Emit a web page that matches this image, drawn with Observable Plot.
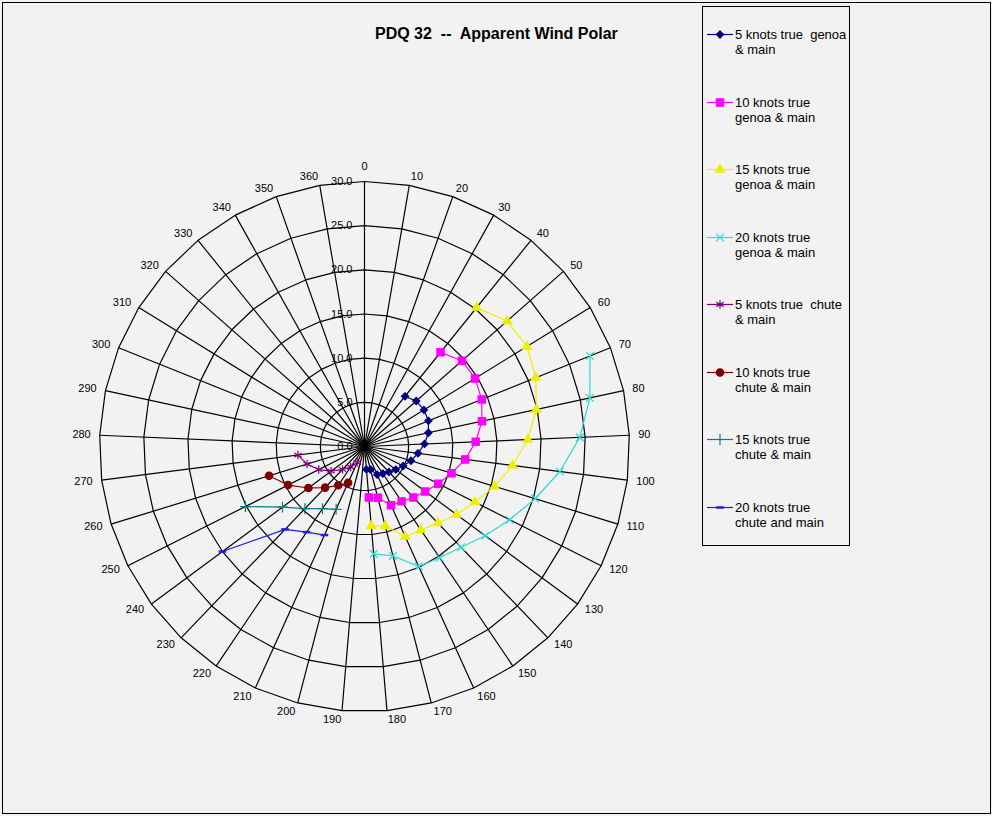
<!DOCTYPE html>
<html><head><meta charset="utf-8">
<script src="https://cdn.jsdelivr.net/npm/d3@7"></script>
<script src="https://cdn.jsdelivr.net/npm/@observablehq/plot@0.6"></script>
<style>
html,body{margin:0;padding:0;background:#f2f2f2;}
#wrap{position:relative;width:992px;height:816px;font-family:"Liberation Sans",Arial,sans-serif;color:#000;}
#title{position:absolute;left:375px;top:24px;font-weight:bold;font-size:16px;line-height:20px;white-space:pre;}
#legend{position:absolute;left:702px;top:6px;width:146px;height:538px;border:1px solid #000;}
.entry{position:absolute;left:0;font-size:13px;line-height:15px;}
.entry svg{position:absolute;left:3px;top:0;}
.entry .txt{position:absolute;left:32px;top:0;white-space:pre;}
</style></head><body><div id="wrap"></div>
<script>
// ---- data ----
const angleLabels = ["0","10","20","30","40","50","60","70","80","90","100","110","120","130","140","150","160","170","180","190","200","210","220","230","240","250","260","270","280","290","300","310","320","330","340","350","360"];
const ringValues = [5, 10, 15, 20, 25, 30];
const radialTickValues = [0, 5, 10, 15, 20, 25, 30];
const radialTickLabels = ["0.0","5.0","10.0","15.0","20.0","25.0","30.0"];

const seriesNames = ["5 knots true  genoa\n& main","10 knots true\ngenoa & main","15 knots true\ngenoa & main","20 knots true\ngenoa & main","5 knots true  chute\n& main","10 knots true\nchute & main","15 knots true\nchute & main","20 knots true\nchute and main"];
const seriesStart = [40, 40, 40, 70, 210, 210, 210, 210];
const genoa5  = [7.3, 7.8, 7.9, 7.8, 7.4, 6.8, 6.1, 5.5, 4.9, 4.4, 4.0, 3.7, 3.5, 2.7, 2.6];
const genoa10 = [13.7, 14.7, 14.7, 14.3, 13.6, 12.6, 11.5, 10.3, 9.35, 8.55, 8.0, 7.5, 7.3, 6.0, 5.8];
const genoa15 = [20.2, 21.5, 21.6, 20.9, 19.9, 18.5, 16.9, 15.4, 14.0, 12.95, 12.0, 11.4, 11.2, 9.3, 9.0];
const genoa20 = [27.5, 26.1, 24.4, 22.3, 20.2, 18.4, 17.0, 15.8, 15.2, 14.9, 12.8, 12.2];
const chute5  = [2.0, 2.8, 3.6, 4.7, 5.8, 6.8, 7.6];
const chute10 = [4.5, 5.3, 6.45, 7.9, 9.7, 11.3];
const chute15 = [7.8, 8.5, 9.75, 11.55, 15.1];
const chute20 = [11.0, 11.7, 13.0, 20.0];
const seriesValues = [genoa5, genoa10, genoa15, genoa20, chute5, chute10, chute15, chute20];
const seriesColors = ["#000080","#ff00ff","#eeee00","#33d6d6","#800080","#800000","#008080","#1f1fdd"];

// ---- styling helpers ----
const dash = {draw(ctx, size){ const w = Math.sqrt(size) / 1.6; ctx.moveTo(-w, 0); ctx.lineTo(w, 0); }};
const seriesSymbols = [
  {symbol: "diamond2", r: 3.2, filled: true},
  {symbol: "square", r: 4.1, filled: true},
  {symbol: "triangle", r: 3.3, filled: true},
  {symbol: "times", r: 3.6, filled: false},
  {symbol: "asterisk", r: 4.0, filled: false},
  {symbol: "circle", r: 3.7, filled: true},
  {symbol: "plus", r: 3.6, filled: false},
  {symbol: dash, r: 3.4, filled: false, sw: 2.5}
];
const symbolTypes = {diamond2: d3.symbolDiamond2, square: d3.symbolSquare, triangle: d3.symbolTriangle, times: d3.symbolTimes, asterisk: d3.symbolAsterisk, circle: d3.symbolCircle, plus: d3.symbolPlus};

const nCat = angleLabels.length;            // 37 spokes
const rMax = d3.max(ringValues);
const theta = i => i * 2 * Math.PI / nCat;
const px = (r, i) => r * Math.sin(theta(i));
const py = (r, i) => r * Math.cos(theta(i));

const rings = ringValues.flatMap(v => d3.range(nCat + 1).map(i => ({v, x: px(v, i % nCat), y: py(v, i % nCat)})));
const spokes = angleLabels.map((lab, i) => ({x2: px(rMax, i), y2: py(rMax, i)}));
const rLab = rMax * 274 / 265;
const catLabels = angleLabels.map((lab, i) => ({lab, x: px(rLab, i), y: py(rLab, i), s: Math.sin(theta(i))}));
const radialTicks = radialTickValues.map((v, k) => ({v, lab: radialTickLabels[k]}));

const series = seriesValues.map((vals, k) => vals.map((v, j) => {
  const i = seriesStart[k] / 10 + j;
  return {v, x: px(v, i), y: py(v, i)};
}));

const marks = [
  Plot.frame({stroke: "#000", strokeWidth: 1}),
  Plot.line(rings, {x: "x", y: "y", z: "v", stroke: "#000", strokeWidth: 1.2, curve: "linear"}),
  Plot.link(spokes, {x1: 0, y1: 0, x2: "x2", y2: "y2", stroke: "#000", strokeWidth: 1.2}),
  Plot.text(radialTicks, {x: 0, y: "v", text: "lab", textAnchor: "end", dx: -12, fontSize: 11, fill: "#000"}),
  Plot.text(catLabels.filter(d => d.s > 0.01), {x: "x", y: "y", text: "lab", textAnchor: "start", fontSize: 11, fill: "#000"}),
  Plot.text(catLabels.filter(d => d.s < -0.01), {x: "x", y: "y", text: "lab", textAnchor: "end", fontSize: 11, fill: "#000"}),
  Plot.text(catLabels.filter(d => Math.abs(d.s) <= 0.01), {x: "x", y: "y", text: "lab", textAnchor: "middle", dy: -6, fontSize: 11, fill: "#000"})
];
series.forEach((rows, k) => {
  const c = seriesColors[k], s = seriesSymbols[k];
  marks.push(Plot.line(rows, {x: "x", y: "y", stroke: c, strokeWidth: 1.2}));
  marks.push(Plot.dot(rows, {x: "x", y: "y", symbol: () => s.symbol, r: s.r, fill: s.filled ? c : "none", stroke: c, strokeWidth: s.sw || 1.2}));
});

const chart = Plot.plot({
  width: 992, height: 816,
  marginLeft: 2, marginTop: 2, marginRight: 2, marginBottom: 3,
  x: {domain: [-rMax, rMax], range: [99, 629], axis: null},
  y: {domain: [-rMax, rMax], range: [711, 181], axis: null},
  style: {background: "#f2f2f2", fontFamily: "'Liberation Sans', Arial, sans-serif", color: "#000"},
  marks
});

const wrap = document.getElementById("wrap");
wrap.appendChild(chart);

const title = document.createElement("div");
title.id = "title";
title.textContent = "PDQ 32  --  Apparent Wind Polar";
wrap.appendChild(title);

const legend = document.createElement("div");
legend.id = "legend";
seriesNames.forEach((name, k) => {
  const s = seriesSymbols[k], c = seriesColors[k];
  const e = document.createElement("div");
  e.className = "entry";
  e.style.top = (20 + 67.5 * k) + "px";
  const symType = typeof s.symbol === "string" ? symbolTypes[s.symbol] : s.symbol;
  const path = d3.symbol(symType, Math.PI * s.r * s.r)();
  e.innerHTML = `<svg width="28" height="15"><line x1="1" x2="27" y1="7.5" y2="7.5" stroke="${c}" stroke-width="1.2"/><path transform="translate(14,7.5)" d="${path}" fill="${s.filled ? c : "none"}" stroke="${c}" stroke-width="${s.sw || 1.2}"/></svg><div class="txt"></div>`;
  e.querySelector(".txt").textContent = name;
  legend.appendChild(e);
});
wrap.appendChild(legend);
</script>
</body></html>
